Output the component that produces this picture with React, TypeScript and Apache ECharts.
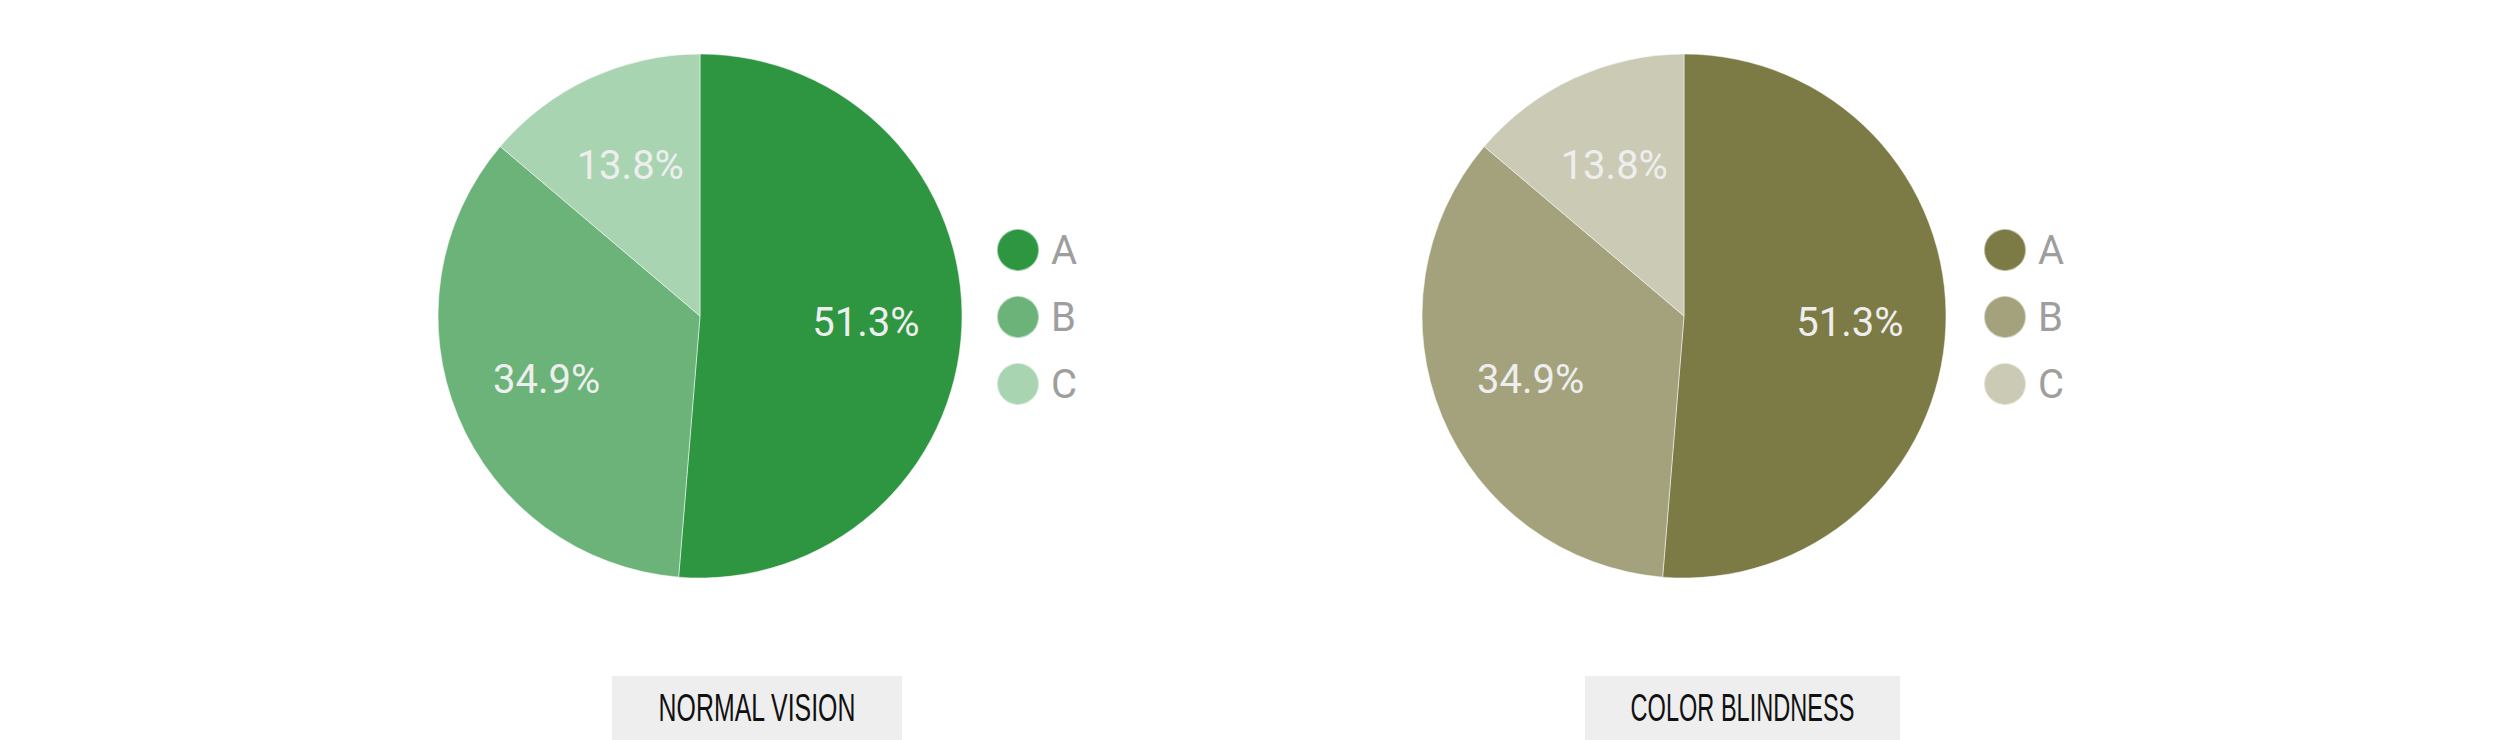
import React, { useEffect, useRef } from "react";
import * as echarts from "echarts";

const categories = ["A", "B", "C"];
const shares = [51.3, 34.9, 13.8];
const normalColors = ["#2e9540", "#6cb37a", "#a9d4b1"];
const blindColors = ["#7c7a45", "#a3a27d", "#cbcab5"];
const panelTitles = ["NORMAL VISION", "COLOR BLINDNESS"];

const W = 2500;
const H = 740;

function buildData(colors: string[]) {
  return categories.map((name, i) => ({
    name,
    value: shares[i],
    itemStyle: { color: colors[i] },
  }));
}

function pieSeries(center: number[], colors: string[]) {
  return {
    type: "pie",
    center,
    radius: 262,
    startAngle: 90,
    clockwise: true,
    silent: true,
    itemStyle: { borderColor: "rgba(255,255,255,0.5)", borderWidth: 1 },
    label: { show: false },
    labelLine: { show: false },
    emphasis: { disabled: true },
    data: buildData(colors),
  };
}

function labelSeries(center: number[]) {
  return {
    type: "pie",
    center,
    radius: 326,
    startAngle: 90,
    clockwise: true,
    silent: true,
    z: 5,
    itemStyle: { color: "rgba(0,0,0,0)", borderWidth: 0 },
    label: {
      show: true,
      position: "inside",
      formatter: (p: any) => p.value.toFixed(1) + "%",
      color: "#eeeeee",
      fontFamily: "Roboto",
      fontWeight: "normal",
      fontSize: 40,
    },
    labelLine: { show: false },
    emphasis: { disabled: true },
    data: categories.map((name, i) => ({ name, value: shares[i] })),
  };
}

function legend(left: number, colors: string[]) {
  return {
    orient: "vertical",
    left,
    top: 223,
    icon: "circle",
    itemWidth: 42,
    itemHeight: 42,
    itemGap: 23,
    selectedMode: false,
    textStyle: {
      color: "#9e9e9e",
      fontFamily: "Roboto",
      fontSize: 40,
      lineHeight: 42,
      padding: [0, 0, 0, 7],
    },
    data: categories.map((name, i) => ({
      name,
      itemStyle: { color: colors[i] },
    })),
  };
}

function titleBox(x: number, width: number, text: string, scaleX: number) {
  return {
    type: "group",
    children: [
      {
        type: "rect",
        shape: { x, y: 676, width, height: 64 },
        style: { fill: "#eeeeee" },
        silent: true,
      },
      {
        type: "text",
        x: x + width / 2,
        y: 708,
        scaleX,
        style: {
          text,
          fill: "#111111",
          font: "38px 'Liberation Sans Narrow', 'Liberation Sans', sans-serif",
          align: "center",
          verticalAlign: "middle",
        },
        silent: true,
      },
    ],
  };
}

export default function App() {
  const ref = useRef<HTMLDivElement>(null);

  useEffect(() => {
    document.body.style.margin = "0";
    if (!ref.current) return;
    const chart = echarts.init(ref.current, null, { renderer: "svg" });
    const leftCenter = [700, 316];
    const rightCenter = [1684, 316];
    chart.setOption({
      animation: false,
      backgroundColor: "#ffffff",
      legend: [legend(991, normalColors), legend(1978, blindColors)],
      series: [
        pieSeries(leftCenter, normalColors),
        pieSeries(rightCenter, blindColors),
        labelSeries(leftCenter),
        labelSeries(rightCenter),
      ],
      graphic: [
        titleBox(612, 290, panelTitles[0], 0.655),
        titleBox(1585, 315, panelTitles[1], 0.62),
      ],
    });
    return () => chart.dispose();
  }, []);

  return <div ref={ref} style={{ width: W, height: H }} />;
}
